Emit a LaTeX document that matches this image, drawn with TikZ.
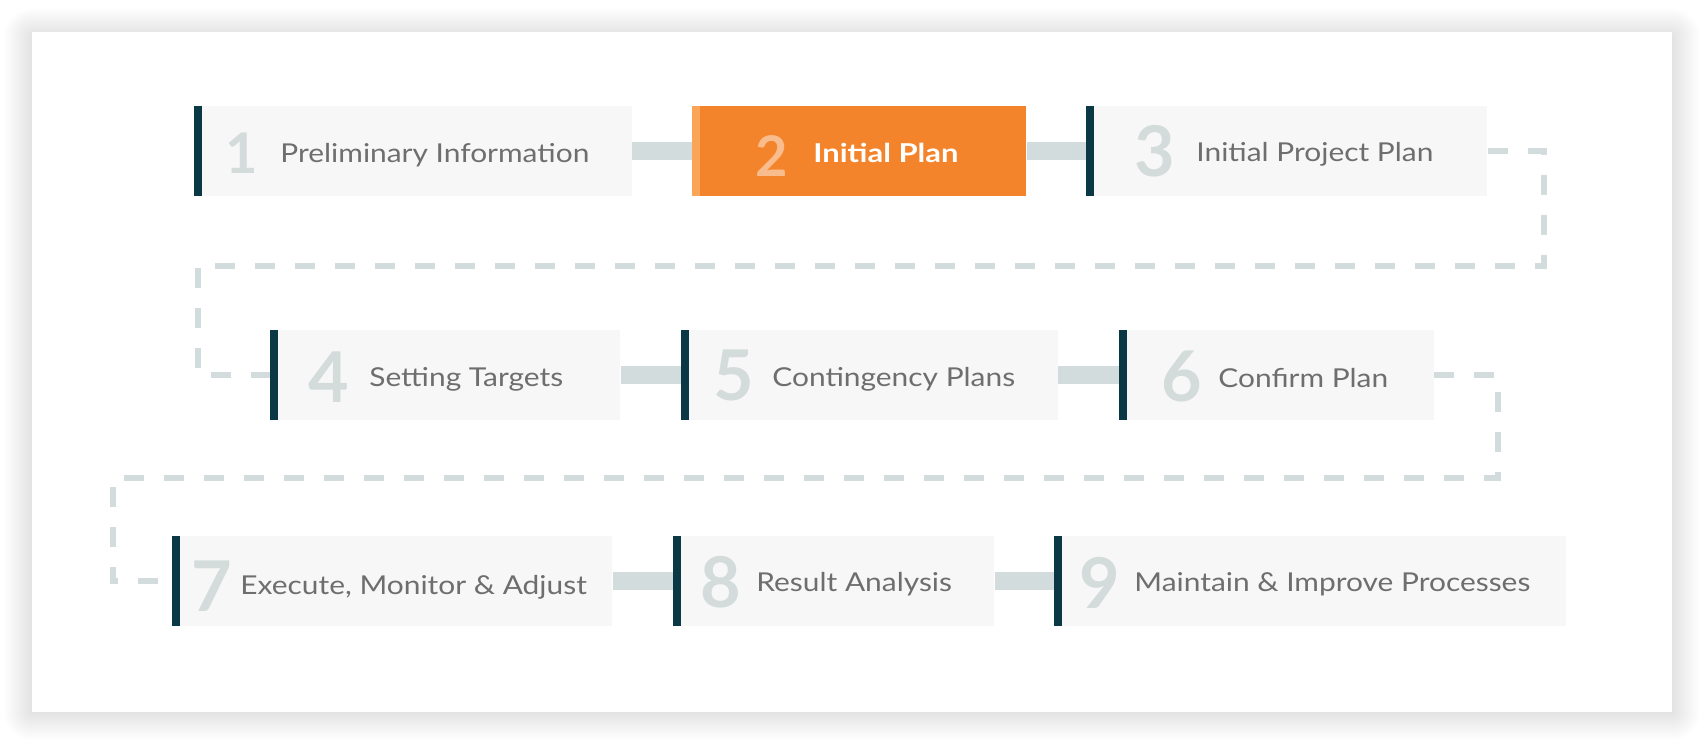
\documentclass[tikz,border=0pt]{standalone}
\usepackage{fontspec}
\setmainfont{Lato}
\newfontfamily\labelfont[FakeStretch=1.15]{Lato}
\newfontfamily\planfont[FakeStretch=1.19]{Lato Bold}
\usetikzlibrary{positioning}

\definecolor{barblue}{HTML}{0A3845}
\definecolor{boxgray}{HTML}{F7F7F7}
\definecolor{linkgray}{HTML}{D3DCDD}
\definecolor{numgray}{HTML}{D3DCDA}
\definecolor{textgray}{HTML}{6E6E6E}
\definecolor{planorange}{HTML}{F4842B}
\definecolor{planlight}{HTML}{FAA457}
\definecolor{planpeach}{HTML}{F8BC8D}

\tikzset{
  stepbox/.style={fill=boxgray, minimum height=45pt, inner sep=0pt, anchor=west},
  stepnum/.style={font=\fontsize{35}{35}\bfseries\selectfont, text=numgray, anchor=west,
    inner sep=0pt, text height=25pt, text depth=0pt},
  smallnum/.style={font=\fontsize{28}{28}\bfseries\selectfont, text height=20pt},
  steplabel/.style={font=\labelfont\fontsize{13}{14}\selectfont, text=textgray, anchor=west,
    inner sep=0pt, text height=9.3pt, text depth=0pt},
  link/.style={draw=linkgray, line width=8.75pt},
  route/.style={draw=linkgray, line width=3pt, dash pattern=on 10pt off 10pt},
}

\begin{document}
\begin{tikzpicture}[x=0.5pt, y=-0.5pt]
    \useasboundingbox (0,0) rectangle (1704,744);

    % card with soft shadow
    \foreach \i in {1,...,28}
      \fill[black, opacity=0.005, rounded corners=\i*0.5pt] (32-\i,36-\i) rectangle (1672+\i,712+\i);
    \fill[white] (32,32) rectangle (1672,712);

    % boxes
    \node[stepbox, minimum width=218.75pt] (s1) at (194,151) {};
    \node[stepbox, fill=planorange, minimum width=167pt] (s2) at (692,151) {};
    \node[stepbox, minimum width=200.5pt] (s3) at (1086,151) {};
    \node[stepbox, minimum width=175pt] (s4) at (270,375) {};
    \node[stepbox, minimum width=188.5pt] (s5) at (680.5,375) {};
    \node[stepbox, minimum width=157.25pt] (s6) at (1119,375) {};
    \node[stepbox, minimum width=220pt] (s7) at (172,581) {};
    \node[stepbox, minimum width=160.75pt] (s8) at (672.5,581) {};
    \node[stepbox, minimum width=255.75pt] (s9) at (1054,581) {};

    % dashed turns between rows
    \coordinate (turn1) at (1544,265.5);
    \coordinate (turn2) at (197.5,265.5);
    \coordinate (turn3) at (1497.5,478);
    \coordinate (turn4) at (112.5,478);
    \draw[route] (s3.east) -| (turn1) -- (turn2) |- (s4.west);
    \draw[route] (s6.east) -| (turn3) -- (turn4) |- (s7.west);

    % solid links
    \draw[link] (s1.east) -- (s2.west);
    \draw[link] (s2.east) -- (s3.west);
    \draw[link] (s4.east) -- (s5.west);
    \draw[link] (s5.east) -- (s6.west);
    \draw[link] (s7.east) -- (s8.west);
    \draw[link] (s8.east) -- (s9.west);

    % left bars
    \foreach \s in {s1,s3,s4,s5,s6,s7,s8,s9}
      \fill[barblue] (\s.north west) rectangle ([xshift=4pt]\s.south west);
    \fill[planlight] (s2.north west) rectangle ([xshift=4pt]s2.south west);

    % numbers
    \node[stepnum, smallnum] (n1) at (225,153) {1};
    \node[stepnum, smallnum, text=planpeach] (n2) at (755,156) {2};
    \node[stepnum] (n3) at (1134,151) {3};
    \node[stepnum] (n4) at (308,377) {4};
    \node[stepnum] (n5) at (713,375) {5};
    \node[stepnum] (n6) at (1161,376) {6};
    \node[stepnum] (n7) at (191,586) {7};
    \node[stepnum] (n8) at (700,582) {8};
    \node[stepnum] (n9) at (1079,583) {9};

    % labels
    \node[steplabel] (t1) at (280,153) {Preliminary Information};
    \node[steplabel, text=white, font=\planfont\fontsize{13}{14}\selectfont] (t2) at (813,153.5) {Initial Plan};
    \node[steplabel] (t3) at (1196,152) {Initial Project Plan};
    \node[steplabel] (t4) at (369,377) {Setting Targets};
    \node[steplabel] (t5) at (772,377) {Contingency Plans};
    \node[steplabel] (t6) at (1218,378) {Confirm Plan};
    \node[steplabel] (t7) at (240,585) {Execute, Monitor \& Adjust};
    \node[steplabel] (t8) at (756,582.5) {Result Analysis};
    \node[steplabel] (t9) at (1134,582.5) {Maintain \& Improve Processes};
\end{tikzpicture}
\end{document}
